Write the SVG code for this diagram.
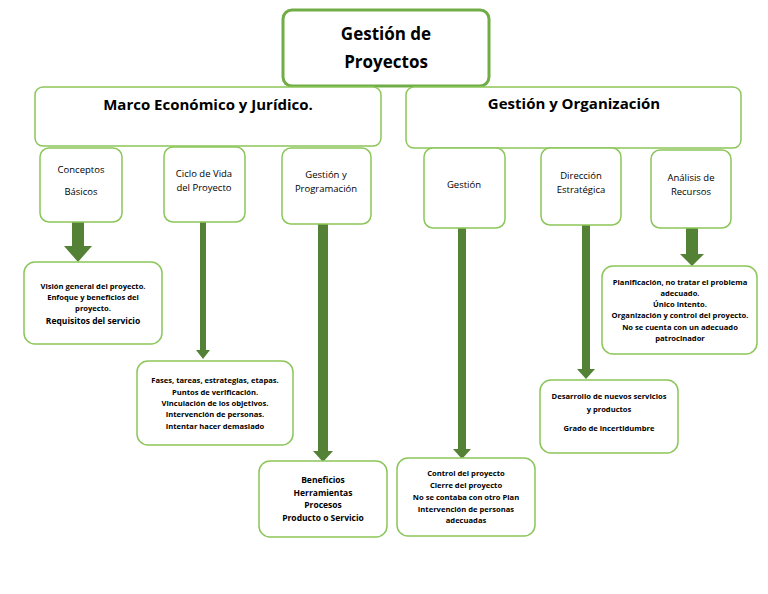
<svg xmlns="http://www.w3.org/2000/svg" width="768" height="594" viewBox="0 0 768 594">
<style>
.b{fill:#fff;stroke:#8cc65a;stroke-width:1.5}
.t{font-family:"Open Sans","Liberation Sans",sans-serif;fill:#000;text-anchor:middle}
.h{font-weight:bold}
.s{font-size:9.5px}
.d{font-size:7.6px;font-weight:bold}
.a{fill:#538135}
</style>
<rect width="768" height="594" fill="#fff"/>
<g id="connectors" class="a">
<polygon points="72,222 84,222 84,246 92,246 78,262 64,246 72,246"/>
<polygon points="200,222 206,222 206,350 210,350 203,359 196,350 200,350"/>
<polygon points="318,224 328,224 328,451 333,451 323,462 313,451 318,451"/>
<polygon points="458,228 466,228 466,449 471,449 462,459 453,449 458,449"/>
<polygon points="582,225 590,225 590,369 595,369 586,379 577,369 582,369"/>
<polygon points="686,228 698,228 698,254 704,254 692,266 680,254 686,254"/>
</g>
<g id="title"><rect x="283" y="10" width="206" height="76" rx="9" fill="#fff" stroke="#70ad47" stroke-width="3"/>
<text class="t h" x="386" y="40" font-size="17">Gestión de</text><text class="t h" x="386" y="68" font-size="17">Proyectos</text></g>
<g id="marco"><rect class="b" x="35" y="87" width="346" height="59" rx="8"/><text class="t h" x="208" y="110" font-size="15">Marco Económico y Jurídico.</text></g>
<g id="gyo"><rect class="b" x="406" y="87" width="335" height="61" rx="8"/><text class="t h" x="574" y="109" font-size="15">Gestión y Organización</text></g>
<g id="conceptos"><rect class="b" x="40" y="148" width="82" height="74" rx="9"/><text class="t s" x="81" y="173">Conceptos</text><text class="t s" x="81" y="195">Básicos</text></g>
<g id="ciclo"><rect class="b" x="164" y="147" width="81" height="75" rx="9"/><text class="t s" x="204" y="177">Ciclo de Vida</text><text class="t s" x="204" y="191">del Proyecto</text></g>
<g id="gprog"><rect class="b" x="282" y="148" width="89" height="76" rx="9"/><text class="t s" x="326" y="178">Gestión y</text><text class="t s" x="326" y="192">Programación</text></g>
<g id="gestion"><rect class="b" x="424" y="148" width="81" height="80" rx="9"/><text class="t s" x="464" y="188">Gestión</text></g>
<g id="direccion"><rect class="b" x="541" y="148" width="80" height="77" rx="9"/><text class="t s" x="581" y="179">Dirección</text><text class="t s" x="581" y="193">Estratégica</text></g>
<g id="analisis"><rect class="b" x="651" y="150" width="80" height="78" rx="9"/><text class="t s" x="691" y="181">Análisis de</text><text class="t s" x="691" y="195">Recursos</text></g>
<g id="vision"><rect class="b" x="24" y="262" width="138" height="82" rx="11"/>
<text class="t d" x="93" y="289">Visión general del proyecto.</text><text class="t d" x="93" y="300">Enfoque y beneficios del</text><text class="t d" x="93" y="311">proyecto.</text><text class="t h" x="93" y="324" font-size="8.5">Requisitos del servicio</text></g>
<g id="fases"><rect class="b" x="137" y="361" width="156" height="84" rx="11"/>
<text class="t d" x="215" y="383">Fases, tareas, estrategias, etapas.</text><text class="t d" x="215" y="395">Puntos de verificación.</text><text class="t d" x="215" y="406">Vinculación de los objetivos.</text><text class="t d" x="215" y="417">Intervención de personas.</text><text class="t d" x="215" y="429">Intentar hacer demasiado</text></g>
<g id="beneficios"><rect class="b" x="259" y="461" width="128" height="76" rx="11"/>
<text class="t h" x="323" y="483" font-size="8.5">Beneficios</text><text class="t h" x="323" y="496" font-size="8.5">Herramientas</text><text class="t h" x="323" y="508" font-size="8.5">Procesos</text><text class="t h" x="323" y="521" font-size="8.5">Producto o Servicio</text></g>
<g id="control"><rect class="b" x="397" y="458" width="138" height="78" rx="11"/>
<text class="t d" x="466" y="476">Control del proyecto</text><text class="t d" x="466" y="488">Cierre del proyecto</text><text class="t d" x="466" y="500">No se contaba con otro Plan</text><text class="t d" x="466" y="512">Intervención de personas</text><text class="t d" x="466" y="523">adecuadas</text></g>
<g id="desarrollo"><rect class="b" x="540" y="380" width="138" height="73" rx="11"/>
<text class="t d" x="609" y="399">Desarrollo de nuevos servicios</text><text class="t d" x="609" y="412">y productos</text><text class="t d" x="609" y="431">Grado de incertidumbre</text></g>
<g id="planificacion"><rect class="b" x="602" y="266" width="155" height="88" rx="11"/>
<text class="t d" x="680" y="285">Planificación, no tratar el problema</text><text class="t d" x="680" y="296">adecuado.</text><text class="t d" x="680" y="307">Único intento.</text><text class="t d" x="680" y="318">Organización y control del proyecto.</text><text class="t d" x="680" y="330">No se cuenta con un adecuado</text><text class="t d" x="680" y="341">patrocinador</text></g>
</svg>
